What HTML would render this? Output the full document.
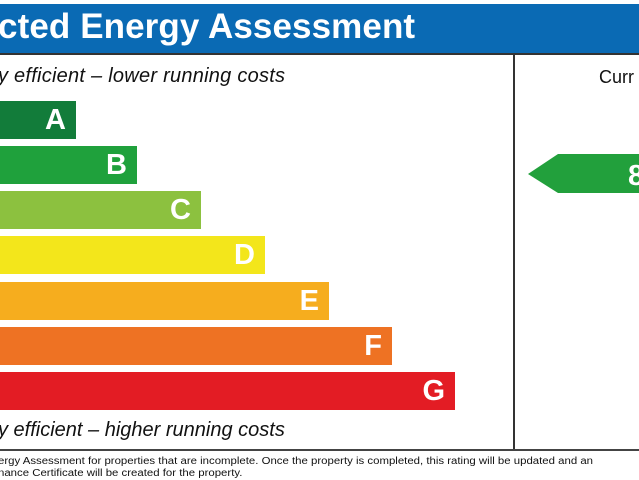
<!DOCTYPE html>
<html><head><style>
body{margin:0;width:639px;height:480px;background:#fff;position:relative;overflow:hidden;font-family:"Liberation Sans",Arial,sans-serif}
.hdr{position:absolute;left:0;top:4px;width:639px;height:49px;background:#0a6ab4;color:#fff;font-weight:bold;font-size:35px;line-height:49px;border-bottom:2px solid #333}
.hdr span{position:absolute;left:-2px;top:-2px;letter-spacing:0.1px}
.vl{position:absolute;left:513px;top:55px;width:2px;height:395px;background:#333}
.hl{position:absolute;left:0;top:449px;width:639px;height:2px;background:#444}
.bar{position:absolute;left:0;height:38px;color:#fff;font-weight:bold;font-size:29px;line-height:38px;text-align:right;box-sizing:border-box;padding-right:10px}
.it{position:absolute;left:-2px;font-style:italic;font-size:20px;color:#111;white-space:nowrap}
.sm{position:absolute;left:-2px;font-size:10px;color:#111;line-height:12px;white-space:nowrap;transform-origin:0 0;transform:scaleX(1.14)}
</style></head><body>
<div class="hdr"><span>cted Energy Assessment</span></div>
<div class="it" style="top:65px;letter-spacing:0.25px">y efficient – lower running costs</div>
<div style="position:absolute;left:599px;top:67px;font-size:18px;color:#111">Curr</div>
<div class="bar" style="top:101px;width:76px;background:#127c3a">A</div>
<div class="bar" style="top:146px;width:137px;background:#1fa13c">B</div>
<div class="bar" style="top:191px;width:201px;background:#8cc13f">C</div>
<div class="bar" style="top:236px;width:265px;background:#f3e61b">D</div>
<div class="bar" style="top:282px;width:329px;background:#f6ad1e">E</div>
<div class="bar" style="top:327px;width:392px;background:#ee7223">F</div>
<div class="bar" style="top:372px;width:455px;background:#e31c24">G</div>
<div class="it" style="top:419px">y efficient – higher running costs</div>
<div class="vl"></div><div class="hl"></div>
<svg style="position:absolute;left:0;top:0" width="639" height="480"><polygon points="528,174 558,154 639,154 639,193 558,193" fill="#22a03c"/><text x="628" y="185" fill="#fff" font-size="29" font-weight="bold" font-family="Liberation Sans,sans-serif">8</text></svg>
<div class="sm" style="top:456px">ergy Assessment for properties that are incomplete. Once the property is completed, this rating will be updated and an<br>nance Certificate will be created for the property.</div>
</body></html>
